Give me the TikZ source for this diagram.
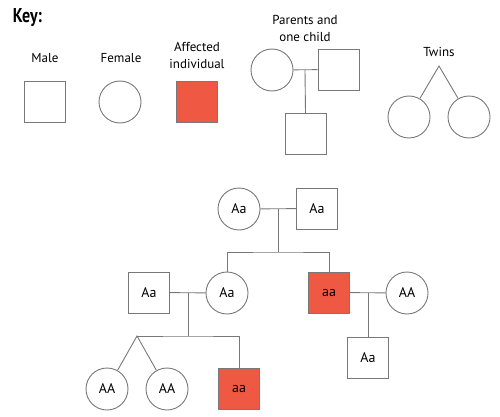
\documentclass[tikz,border=0pt]{standalone}
\usepackage{fontspec}
\setmainfont{PT Sans}
\definecolor{lin}{RGB}{120,120,120}
\definecolor{aff}{RGB}{239,88,66}
\tikzset{
  pedline/.style={draw=lin, line width=0.9pt},
  male/.style={rectangle, draw=lin, line width=0.9pt, minimum size=41pt, inner sep=0pt, fill=white, font=\fontsize{14}{14}\selectfont},
  female/.style={circle, draw=lin, line width=0.9pt, minimum size=42pt, inner sep=0pt, fill=white, font=\fontsize{14}{14}\selectfont},
  affected/.style={male, fill=aff},
  lbl/.style={align=center, inner sep=0pt, font=\fontsize{13}{17}\selectfont}
}
\begin{document}
\begin{tikzpicture}[x=1pt, y=-1pt]
\useasboundingbox (0,0) rectangle (500,417);
% Key
\node[inner sep=0pt, font=\fontsize{20}{20}\bfseries\selectfont] (key) at (27.5,17.5) {\scalebox{0.8}[1]{Key:}};
\node[lbl] (lmale) at (45,58) {Male};
\node[lbl] (lfem) at (121,58) {Female};
\node[lbl] (laff) at (197,55) {Affected\\individual};
\node[lbl] (lpar) at (305,28) {Parents and\\one child};
\node[lbl] (ltw) at (439,52) {Twins};
\node[male] (kmale) at (44.5,102) {};
\node[female] (kfem) at (120,102) {};
\node[affected] (kaff) at (197,102) {};
% parents and one child
\node[female] (kpf) at (272,70) {};
\node[male] (kpm) at (338.5,69.5) {};
\node[male] (kpc) at (305.5,134) {};
\coordinate (kpj) at (305,70);
\draw[pedline] (kpf) -- (kpm);
\draw[pedline] (kpj) -- (kpc.north);
% twins
\coordinate (ktw) at (439,66);
\node[female] (kt1) at (409,117) {};
\node[female] (kt2) at (469,117) {};
\draw[pedline] (kt1) -- (ktw) -- (kt2);
% Pedigree generation I
\node[female] (g1f) at (239,209) {Aa};
\node[male] (g1m) at (317,208.5) {Aa};
\coordinate (j1) at (278,209);
\coordinate (s1) at (278,252);
\draw[pedline] (g1f) -- (g1m);
\draw[pedline] (j1) -- (s1);
% generation II
\node[male] (g2m) at (149,292.5) {Aa};
\node[female] (g2f) at (227,293) {Aa};
\node[affected] (g2a) at (329,292.5) {aa};
\node[female] (g2w) at (407,293) {AA};
\draw[pedline] (g2f.north) |- (s1) -| (g2a.north);
\draw[pedline] (g2m) -- (g2f);
\draw[pedline] (g2a) -- (g2w);
\coordinate (j2) at (188,293);
\coordinate (s2) at (188,336);
\coordinate (j3) at (368,293);
\draw[pedline] (j2) -- (s2);
% generation III
\coordinate (tw) at (137,336);
\node[female] (g3t1) at (107,389) {AA};
\node[female] (g3t2) at (167,389) {AA};
\node[affected] (g3a) at (239,388.5) {aa};
\node[male] (g3c) at (368,357.5) {Aa};
\draw[pedline] (tw) -- (s2) -| (g3a.north);
\draw[pedline] (g3t1) -- (tw) -- (g3t2);
\draw[pedline] (j3) -- (g3c.north);
\end{tikzpicture}
\end{document}
